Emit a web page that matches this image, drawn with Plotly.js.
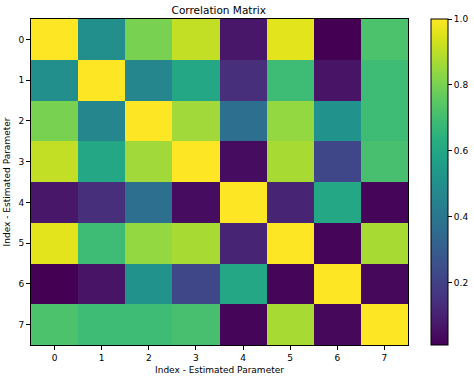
<!DOCTYPE html>
<html>
<head>
<meta charset="utf-8">
<script src="https://cdn.plot.ly/plotly-3.0.1.min.js"></script>
<style>html,body{margin:0;padding:0;background:#fff;}#chart{width:474px;height:379px;}</style>
</head>
<body>
<div id="chart"></div>
<script>
var labels = [0, 1, 2, 3, 4, 5, 6, 7];
var row0 = [1.00, 0.50, 0.80, 0.91, 0.07, 0.96, 0.01, 0.72];
var row1 = [0.50, 1.00, 0.46, 0.60, 0.14, 0.69, 0.06, 0.69];
var row2 = [0.80, 0.46, 1.00, 0.86, 0.37, 0.84, 0.51, 0.69];
var row3 = [0.91, 0.60, 0.86, 1.00, 0.04, 0.87, 0.22, 0.71];
var row4 = [0.07, 0.14, 0.37, 0.04, 1.00, 0.11, 0.60, 0.02];
var row5 = [0.96, 0.69, 0.84, 0.87, 0.11, 1.00, 0.02, 0.87];
var row6 = [0.01, 0.06, 0.51, 0.22, 0.60, 0.02, 1.00, 0.03];
var row7 = [0.72, 0.69, 0.69, 0.71, 0.02, 0.87, 0.03, 1.00];
var z = [row0, row1, row2, row3, row4, row5, row6, row7];
var cbTicks = [0.2, 0.4, 0.6, 0.8, 1.0];

var font = {family: 'DejaVu Sans', size: 9, color: '#000'};
var data = [{
  type: 'heatmap',
  z: z, x: labels, y: labels,
  colorscale: 'Viridis',
  zmin: 0.01, zmax: 1.0,
  xgap: 0, ygap: 0,
  colorbar: {
    x: 1.061, xanchor: 'left', y: 0.5, yanchor: 'middle',
    len: 1, lenmode: 'fraction', thickness: 17, thicknessmode: 'pixels',
    outlinewidth: 1, outlinecolor: '#000',
    tickmode: 'array', tickvals: cbTicks, ticktext: cbTicks.map(function(v){return v.toFixed(1);}),
    ticks: 'outside', ticklen: 4, tickwidth: 1, tickcolor: '#000',
    tickfont: font, xpad: 0, ypad: 0
  }
}];
var layout = {
  width: 474, height: 379,
  margin: {l: 31, r: 66, t: 19, b: 34, autoexpand: false},
  paper_bgcolor: '#fff', plot_bgcolor: '#fff',
  font: font,
  title: {text: 'Correlation Matrix', font: {family: 'DejaVu Sans', size: 10.5, color: '#000'}, x: 0.4615, xanchor: 'center', y: 0.973, yanchor: 'middle'},
  xaxis: {
    range: [-0.5, 7.5], tickmode: 'array', tickvals: labels, ticks: 'outside', ticklen: 4, tickcolor: '#000',
    showgrid: false, zeroline: false, showline: true, linecolor: '#000', linewidth: 1, mirror: true,
    tickfont: font, title: {text: 'Index - Estimated Parameter', font: font, standoff: 4}
  },
  yaxis: {
    range: [7.5, -0.5], tickmode: 'array', tickvals: labels, ticks: 'outside', ticklen: 4, tickcolor: '#000',
    showgrid: false, zeroline: false, showline: true, linecolor: '#000', linewidth: 1, mirror: true,
    tickfont: font, title: {text: 'Index - Estimated Parameter', font: font, standoff: 6}
  }
};
Plotly.newPlot('chart', data, layout, {displayModeBar: false, staticPlot: true});
</script>
</body>
</html>
